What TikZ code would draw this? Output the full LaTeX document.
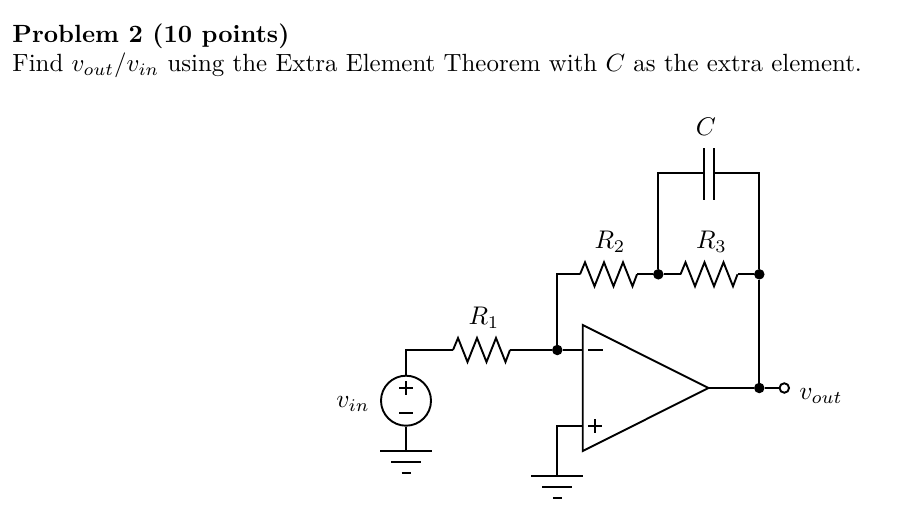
\documentclass[tikz,border=0pt]{standalone}
\usepackage{amsmath}
\tikzset{
  wire/.style={line width=1.9pt,line join=miter},
  dotnode/.style={circle,fill=black,inner sep=0pt,minimum size=10.5pt},
  opennode/.style={circle,draw=black,fill=white,line width=1.9pt,inner sep=0pt,minimum size=9.5pt},
  srcnode/.style={circle,draw=black,line width=1.9pt,inner sep=0pt,minimum size=50pt},
  lbl/.style={inner sep=0pt,scale=2.55},
  txt/.style={inner sep=0pt,anchor=base west,scale=2.49},
  res/.pic={\draw[wire] (0,0) -- (5,-12) -- (14.5,12) -- (24,-12) -- (33.5,12) -- (43,-12) -- (52.5,12) -- (57,0);},
  gnd/.pic={\draw[wire] (-26,0) -- (26,0) (-15,11) -- (15,11) (-4.5,22) -- (4.5,22);}
}
\begin{document}
\begin{tikzpicture}[x=1pt,y=-1pt]
\useasboundingbox (0,0) rectangle (912,525);
\node[txt] (title) at (12,42) {\bfseries Problem 2 (10 points)};
\node[txt] (task) at (12,71.5) {Find $v_{out}/v_{in}$ using the Extra Element Theorem with $C$ as the extra element.};
% named points
\coordinate (r1a) at (453,350); \coordinate (r1b) at (510,350);
\coordinate (r2a) at (580,274.3); \coordinate (r2b) at (637,274.3);
\coordinate (r3a) at (680.5,274.3); \coordinate (r3b) at (737.5,274.3);
\coordinate (opA) at (582.7,325); \coordinate (opB) at (582.7,451); \coordinate (opT) at (708.5,388);
\coordinate (inN) at (582.7,350); \coordinate (inP) at (582.7,426);
\coordinate (capL) at (704.3,173.3); \coordinate (capR) at (713.7,173.3);
\coordinate (g1) at (406,451); \coordinate (g2) at (557.3,476);
\node[srcnode] (src) at (406,400.7) {};
\node[dotnode] (j1) at (557.3,350) {};
\node[dotnode] (j2) at (658.3,274.3) {};
\node[dotnode] (j3) at (759.3,274.3) {};
\node[dotnode] (j4) at (759.3,388) {};
\coordinate (cl) at (658.3,173.3); \coordinate (cr) at (759.3,173.3);
\coordinate (pw) at (557.3,426);
% elements
\pic at (r1a) {res}; \pic at (r2a) {res}; \pic at (r3a) {res};
\pic at (g1) {gnd}; \pic at (g2) {gnd};
\draw[wire] (opA) -- (opB) -- (opT) -- cycle;
\draw[wire] (704.3,148) -- (704.3,199.6) (713.7,148) -- (713.7,199.6);
% polarity marks
\draw[wire] (399,388) -- (413,388) (406,381) -- (406,395) (399,413.3) -- (413,413.3);
\draw[wire] (588,350) -- (603,350) (588,426) -- (602,426) (595,419) -- (595,433);
% wires
\draw[wire] (src.north) |- (r1a);
\draw[wire] (src.south) -- (g1);
\draw[wire] (r1b) -- (j1) -- (inN);
\draw[wire] (j1) |- (r2a);
\draw[wire] (r2b) -- (j2) -- (r3a);
\draw[wire] (r3b) -- (j3);
\draw[wire] (j2) |- (capL);
\draw[wire] (j3) |- (capR);
\draw[wire] (j3) -- (j4);
\draw[wire] (inP) -- (pw) -- (g2);
\draw[wire] (opT) -- (j4);
\node[opennode] (out) at (784.3,388) {};
\draw[wire] (j4) -- (out);
% labels
\node[lbl] (lC) at (706,127) {$C$};
\node[lbl] (lR1) at (484,318) {$R_1$};
\node[lbl] (lR2) at (610,241.5) {$R_2$};
\node[lbl] (lR3) at (711.5,241.5) {$R_3$};
\node[lbl] (lvin) at (353,404) {$v_{in}$};
\node[lbl] (lvout) at (821,396) {$v_{out}$};
\end{tikzpicture}
\end{document}
